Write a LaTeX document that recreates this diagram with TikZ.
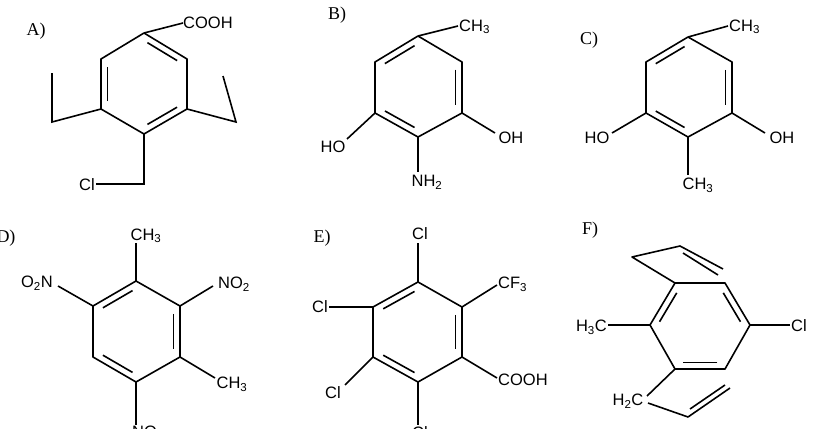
\documentclass[tikz,border=0pt]{standalone}
\usepackage{fontspec}
\setmainfont{Liberation Serif}
\newfontfamily\lab{Liberation Sans}
\usetikzlibrary{calc}
\newcommand{\subs}[1]{\textsubscript{#1}}
\tikzset{bond/.style={line width=1.6pt},
 atom/.style={font=\lab\fontsize{16.5}{18}\selectfont,inner sep=0pt},
 letter/.style={font=\fontsize{18}{20}\selectfont,inner sep=0pt}}
\newcommand{\dbl}[3]{\draw[bond,shorten <=4pt,shorten >=4pt] ($(#1)!.85!(#2)$) -- ($(#1)!.85!(#3)$);}
\newcommand{\ring}[7]{% prefix, 6 points
 \coordinate (#1a) at #2; \coordinate (#1b) at #3; \coordinate (#1c) at #4;
 \coordinate (#1d) at #5; \coordinate (#1e) at #6; \coordinate (#1f) at #7;
 \coordinate (#1o) at ($(#1a)!.5!(#1d)$);
 \draw[bond,line join=round] (#1a)--(#1b)--(#1c)--(#1d)--(#1e)--(#1f)--cycle;}
\begin{document}
\begin{tikzpicture}[x=1pt,y=-1pt]
\useasboundingbox (0,0) rectangle (826,428);
\clip (0,0) rectangle (826,428);
% A
\node[letter] (LA) at (36,31) {A)};
\ring{A}{(144,33)}{(187,59)}{(187,109)}{(144,134)}{(101,109)}{(101,59)}
\dbl{Ao}{Aa}{Ab}\dbl{Ao}{Ac}{Ad}\dbl{Ao}{Ae}{Af}
\coordinate (A1) at (183,23); \node[atom,anchor=west] (Acooh) at (183,23) {COOH};
\draw[bond] (Aa)--(A1);
\coordinate (A2) at (52,122); \coordinate (A3) at (52,73);
\draw[bond] (Ae)--(A2)--(A3);
\coordinate (A4) at (236,122); \coordinate (A5) at (223,76);
\draw[bond] (Ac)--(A4)--(A5);
\coordinate (A6) at (144,184); \coordinate (A7) at (96,184);
\node[atom,anchor=east] (Acl) at (95,185) {Cl};
\draw[bond] (Ad)--(A6)--(A7);
% B
\node[letter] (LB) at (337,15) {B)};
\ring{B}{(418,36)}{(462,62)}{(462,113)}{(418,137)}{(375,113)}{(375,62)}
\dbl{Bo}{Bf}{Ba}\dbl{Bo}{Bb}{Bc}\dbl{Bo}{Bd}{Be}
\coordinate (B1) at (458,26); \node[atom,anchor=west] (Bch) at (459,27) {CH\subs{3}};
\draw[bond] (Ba)--(B1);
\coordinate (B2) at (347,139); \node[atom] (Bho) at (333,147) {HO};
\draw[bond] (Be)--(B2);
\coordinate (B3) at (495,133); \node[atom] (Boh) at (511,138) {OH};
\draw[bond] (Bc)--(B3);
\coordinate (B4) at (418,172); \node[atom,anchor=north] (Bnh) at (427,175) {NH\subs{2}};
\draw[bond] (Bd)--(B4);
% C
\node[letter] (LC) at (589,40) {C)};
\ring{C}{(688,37)}{(732,62)}{(732,113)}{(688,137)}{(646,113)}{(646,62)}
\dbl{Co}{Cf}{Ca}\dbl{Co}{Cb}{Cc}\dbl{Co}{Cd}{Ce}
\coordinate (C1) at (728,26); \node[atom,anchor=west] (Cch) at (729,27) {CH\subs{3}};
\draw[bond] (Ca)--(C1);
\coordinate (C2) at (612,133); \node[atom] (Cho) at (597,138) {HO};
\draw[bond] (Ce)--(C2);
\coordinate (C3) at (765,133); \node[atom] (Coh) at (782,138) {OH};
\draw[bond] (Cc)--(C3);
\coordinate (C4) at (688,175); \node[atom,anchor=north] (Cch2) at (698,178) {CH\subs{3}};
\draw[bond] (Cd)--(C4);
% D
\node[letter] (LD) at (6,238) {D)};
\ring{D}{(136,281)}{(180,306)}{(180,357)}{(136,382)}{(93,357)}{(93,306)}
\dbl{Do}{Df}{Da}\dbl{Do}{Db}{Dc}\dbl{Do}{Dd}{De}
\coordinate (D1) at (136,243); \node[atom,anchor=south] (Dch) at (146,243) {CH\subs{3}};
\draw[bond] (Da)--(D1);
\coordinate (D2) at (58,286); \node[atom] (Don) at (37,283) {O\subs{2}N};
\draw[bond] (Df)--(D2);
\coordinate (D3) at (213,286); \node[atom] (Dno) at (234,284) {NO\subs{2}};
\draw[bond] (Db)--(D3);
\coordinate (D4) at (215,378); \node[atom] (Dch2) at (232,384) {CH\subs{3}};
\draw[bond] (Dc)--(D4);
\coordinate (D5) at (136,425); \node[atom,anchor=north] (Dno2) at (148,426) {NO\subs{2}};
\draw[bond] (Dd)--(D5);
% E
\node[letter] (LE) at (322,238) {E)};
\ring{E}{(418,282)}{(462,307)}{(462,357)}{(418,382)}{(373,357)}{(373,307)}
\dbl{Eo}{Ef}{Ea}\dbl{Eo}{Eb}{Ec}\dbl{Eo}{Ed}{Ee}
\coordinate (E1) at (418,243); \node[atom,anchor=south] (Ecl) at (420,240) {Cl};
\draw[bond] (Ea)--(E1);
\coordinate (E2) at (497,285); \node[atom,anchor=west] (Ecf) at (498,284) {CF\subs{3}};
\draw[bond] (Eb)--(E2);
\coordinate (E3) at (329,307); \node[atom,anchor=east] (Ecl2) at (328,307) {Cl};
\draw[bond] (Ef)--(E3);
\coordinate (E4) at (345,385); \node[atom] (Ecl3) at (333,393) {Cl};
\draw[bond] (Ee)--(E4);
\coordinate (E5) at (497,378); \node[atom,anchor=west] (Ecooh) at (498,380) {COOH};
\draw[bond] (Ec)--(E5);
\coordinate (E6) at (418,425); \node[atom,anchor=north] (Ecl4) at (420,426) {Cl};
\draw[bond] (Ed)--(E6);
% F
\node[letter] (LF) at (590,230) {F)};
\ring{F}{(675,283)}{(725,283)}{(750,325)}{(725,369)}{(675,369)}{(650,325)}
\dbl{Fo}{Ff}{Fa}\dbl{Fo}{Fb}{Fc}\dbl{Fo}{Fd}{Fe}
\coordinate (F1) at (632,257); \coordinate (F2) at (680,246); \coordinate (F3) at (723,269);
\draw[bond,line join=round] (Fa)--(F1)--(F2)--(F3);
\draw[bond] (683,253)--(718,275);
\coordinate (F4) at (608,325); \node[atom,anchor=east] (Fh3c) at (607,327) {H\subs{3}C};
\draw[bond] (Ff)--(F4);
\coordinate (F5) at (790,325); \node[atom,anchor=west] (Fcl) at (791,326) {Cl};
\draw[bond] (Fc)--(F5);
\coordinate (F6) at (647,396); \node[atom] (Fh2c) at (628,401) {H\subs{2}C};
\draw[bond] (Fe)--(F6);
\coordinate (F7) at (648,403); \coordinate (F8) at (688,417); \coordinate (F9) at (730,388);
\draw[bond,line join=round] (F7)--(F8)--(F9);
\draw[bond] (690,409)--(725,385);
\end{tikzpicture}
\end{document}
